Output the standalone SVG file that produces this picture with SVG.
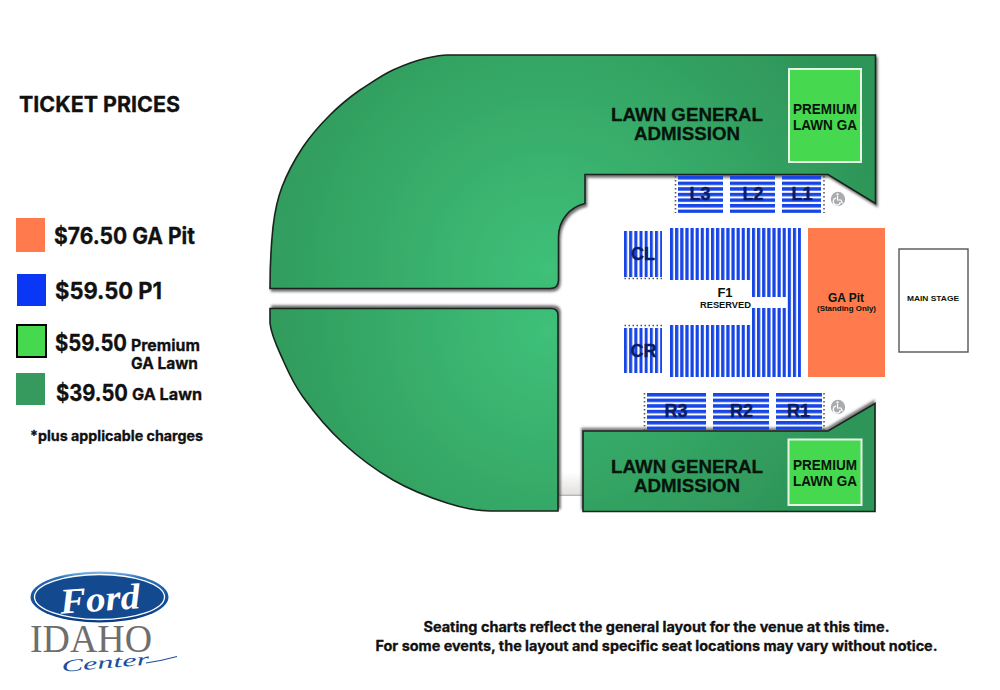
<svg xmlns="http://www.w3.org/2000/svg" width="1000" height="690" viewBox="0 0 1000 690">
<style>
.lawn{stroke:#1a241e;stroke-width:1.6}
.prem{fill:#46d84e;stroke:#e6f5e6;stroke-width:2}
.map{font-family:"Liberation Sans",Arial,sans-serif;font-weight:700;fill:#07140c;text-anchor:middle}
.big{stroke:#07140c;stroke-width:.3}
.sec{font-family:"Liberation Sans",Arial,sans-serif;font-weight:700;font-size:18px;fill:#0a1c66;stroke:#0a1c66;stroke-width:.4;text-anchor:middle}
.leg{font-family:Inter,"Liberation Sans",sans-serif;font-weight:700;fill:#111;stroke:#111;stroke-width:.3}
.dots{stroke:#555;stroke-width:1.6;stroke-dasharray:1.5 2.5;fill:none}
</style>
<defs>
<filter id="sh1" x="-5%" y="-5%" width="110%" height="110%"><feDropShadow dx="1.5" dy="2.5" stdDeviation="1.2" flood-color="#444" flood-opacity=".75"/></filter>
<filter id="sh2" x="-5%" y="-5%" width="110%" height="110%"><feDropShadow dx="2" dy="-2.5" stdDeviation="1.2" flood-color="#444" flood-opacity=".75"/></filter>
<filter id="sh3" x="-5%" y="-5%" width="110%" height="110%"><feDropShadow dx="-1" dy="-2.5" stdDeviation="1.2" flood-color="#444" flood-opacity=".7"/></filter>
<radialGradient id="g1" gradientUnits="userSpaceOnUse" cx="548" cy="270" r="340"><stop offset="0" stop-color="#3fc079"/><stop offset="1" stop-color="#2e9558"/></radialGradient>
<radialGradient id="g2" gradientUnits="userSpaceOnUse" cx="548" cy="330" r="320"><stop offset="0" stop-color="#3fc079"/><stop offset="1" stop-color="#2e9558"/></radialGradient>
<linearGradient id="g3" x1="0" y1="0" x2="0" y2="1"><stop offset="0" stop-color="#fff"/><stop offset="1" stop-color="#e2e0de"/></linearGradient>
<linearGradient id="ov" x1="0" y1="0" x2="0" y2="1"><stop offset="0" stop-color="#8fc0e8"/><stop offset=".12" stop-color="#2a70b8"/><stop offset=".5" stop-color="#15539f"/><stop offset="1" stop-color="#0b3a80"/></linearGradient>
<pattern id="h" width="10" height="5.6" patternUnits="userSpaceOnUse" y="176"><rect width="10" height="3.5" fill="#1846e6"/></pattern>
<pattern id="h2" width="10" height="5.6" patternUnits="userSpaceOnUse" y="393"><rect width="10" height="3.5" fill="#1846e6"/></pattern>
<pattern id="v" width="5.12" height="10" patternUnits="userSpaceOnUse" x="670"><rect width="3.2" height="10" fill="#1846e6"/></pattern>
<pattern id="vc" width="5.17" height="10" patternUnits="userSpaceOnUse" x="624"><rect width="3" height="10" fill="#1846e6"/></pattern>
<g id="wc"><circle r="7.2" fill="#a9abad"/><circle cx="-.5" cy="-4.6" r="1.1" fill="#fff"/><path d="M-.5-3V1H3L4.500 4.400M-2-1A3.600 3.600 0 1 0 2.400 3.200" fill="none" stroke="#fff" stroke-width="1.200"/></g>
</defs>
<rect width="1000" height="690" fill="#fff"/>

<g id="legend">
<text class="leg" x="19" y="112" font-size="21.5" textLength="161" lengthAdjust="spacingAndGlyphs">TICKET PRICES</text>
<rect x="16" y="218" width="29" height="34" fill="#ff7a4d"/>
<rect x="17" y="274" width="29" height="32" fill="#0a36f5"/>
<rect x="17" y="325" width="29" height="32" fill="#46d84e" stroke="#000" stroke-width="2"/>
<rect x="16" y="373" width="29" height="32" fill="#36995e"/>
<text class="leg" x="54" y="244" font-size="22.5" textLength="141" lengthAdjust="spacingAndGlyphs">$76.50 GA Pit</text>
<text class="leg" x="55" y="299" font-size="22.5" textLength="107" lengthAdjust="spacingAndGlyphs">$59.50 P1</text>
<text class="leg" x="55" y="351" font-size="22.5" textLength="72" lengthAdjust="spacingAndGlyphs">$59.50</text>
<text class="leg" x="131" y="351" font-size="16" textLength="69" lengthAdjust="spacingAndGlyphs">Premium</text>
<text class="leg" x="131" y="369" font-size="16" textLength="67" lengthAdjust="spacingAndGlyphs">GA Lawn</text>
<text class="leg" x="56" y="401" font-size="22.5" textLength="72" lengthAdjust="spacingAndGlyphs">$39.50</text>
<text class="leg" x="132" y="400" font-size="16" textLength="70" lengthAdjust="spacingAndGlyphs">GA Lawn</text>
<text class="leg" x="30" y="441" font-size="14" textLength="173" lengthAdjust="spacingAndGlyphs">*plus applicable charges</text>
</g>

<g id="floor">
<rect x="559" y="472" width="24" height="23" fill="url(#g3)"/>
<path d="M559 495.300H583" stroke="#8a8a8a" stroke-width=".8"/>
</g>

<g id="lawn-upper">
<path class="lawn" filter="url(#sh1)" fill="url(#g1)" d="M270 288.500C270 274 270 256 273 227C275 210 277 200 282 187C287 174 295 159 303 147C311 135 320 125 330 115C340 105 350 97 360 90C371 83 382 75 393 70C404 65 418 60 427 58C436 56 441 55 447 55H875.500V203.500L828 174.500H585V203.500C570 207 558.500 220 558.500 237V280Q558.500 288.500 550 288.500Z"/>
<rect class="prem" x="789" y="69" width="72" height="93"/>
<text class="map big" x="687" y="120.500" font-size="18.500" textLength="152" lengthAdjust="spacingAndGlyphs">LAWN GENERAL</text>
<text class="map big" x="687" y="139.500" font-size="18.500" textLength="106" lengthAdjust="spacingAndGlyphs">ADMISSION</text>
<text class="map" x="825" y="114" font-size="14.500" textLength="64" lengthAdjust="spacingAndGlyphs">PREMIUM</text>
<text class="map" x="825" y="130" font-size="14.500" textLength="64" lengthAdjust="spacingAndGlyphs">LAWN GA</text>
</g>
<g id="lawn-lower-left">
<path class="lawn" filter="url(#sh2)" fill="url(#g2)" d="M270 308.500V323C271 335 277.500 347.700 283 360C288.500 372.300 293 383.200 303 397C313 410.800 328 429.200 343 443C358 456.800 375.700 470 393 480C410.300 490 430.800 497.800 447 503C463.200 508.200 478 511 490 511H558V315Q558 308.500 551 308.500Z"/>
</g>
<g id="lawn-lower-right">
<path class="lawn" filter="url(#sh3)" fill="url(#g1)" d="M583 431H828L875 403.500V511.500H583Z"/>
<rect class="prem" x="788.500" y="439.500" width="73" height="65.500"/>
<text class="map big" x="687" y="472.500" font-size="18.500" textLength="152" lengthAdjust="spacingAndGlyphs">LAWN GENERAL</text>
<text class="map big" x="687" y="491.500" font-size="18.500" textLength="106" lengthAdjust="spacingAndGlyphs">ADMISSION</text>
<text class="map" x="825" y="470" font-size="14.500" textLength="64" lengthAdjust="spacingAndGlyphs">PREMIUM</text>
<text class="map" x="825" y="486" font-size="14.500" textLength="64" lengthAdjust="spacingAndGlyphs">LAWN GA</text>
</g>

<g id="sections-left">
<rect x="678" y="176" width="45" height="37" fill="url(#h)"/>
<rect x="730" y="176" width="45" height="37" fill="url(#h)"/>
<rect x="782" y="176" width="39" height="37" fill="url(#h)"/>
<path class="dots" d="M675.500 176V213M824 176V213"/>
<text class="sec" x="700" y="200">L3</text>
<text class="sec" x="753" y="200">L2</text>
<text class="sec" x="802" y="200">L1</text>
<use href="#wc" x="838" y="199"/>
</g>
<g id="sections-right">
<rect x="647" y="393" width="59" height="37" fill="url(#h2)"/>
<rect x="713" y="393" width="56" height="37" fill="url(#h2)"/>
<rect x="776" y="393" width="46" height="37" fill="url(#h2)"/>
<path class="dots" d="M644.500 393V430M824 393V430"/>
<text class="sec" x="676" y="417">R3</text>
<text class="sec" x="741.500" y="417">R2</text>
<text class="sec" x="798.500" y="417">R1</text>
<use href="#wc" x="838" y="407"/>
</g>
<g id="sections-center">
<rect x="624" y="231" width="38" height="46" fill="url(#vc)"/>
<rect x="624" y="328" width="38" height="45" fill="url(#vc)"/>
<path class="dots" d="M624.500 278.500H662M624.500 325.500H662"/>
<text class="sec" x="643" y="260">CL</text>
<text class="sec" x="643.500" y="357">CR</text>
</g>
<g id="section-F1">
<path fill="url(#v)" d="M670 228H801V377H670V325H751.500V308H787V297H751.500V280H670Z"/>
<text class="map" x="725" y="297" font-size="13">F1</text>
<text class="map" x="725.500" y="308" font-size="9" textLength="51" lengthAdjust="spacingAndGlyphs">RESERVED</text>
</g>
<g id="ga-pit">
<rect x="808" y="228" width="77" height="149" fill="#ff7a4d"/>
<text class="map" x="846" y="302" font-size="12" textLength="36" lengthAdjust="spacingAndGlyphs">GA Pit</text>
<text class="map" x="846.500" y="310.500" font-size="8" textLength="59" lengthAdjust="spacingAndGlyphs">(Standing Only)</text>
</g>
<g id="main-stage">
<rect x="899" y="249" width="69" height="103" fill="#fff" stroke="#555" stroke-width="1.400"/>
<text class="map" x="933" y="301" font-size="8" textLength="52" lengthAdjust="spacingAndGlyphs">MAIN STAGE</text>
</g>

<g id="notice">
<text class="leg" x="656.500" y="632" font-size="14" text-anchor="middle" textLength="466" lengthAdjust="spacingAndGlyphs">Seating charts reflect the general layout for the venue at this time.</text>
<text class="leg" x="656.500" y="651" font-size="14" text-anchor="middle" textLength="562" lengthAdjust="spacingAndGlyphs">For some events, the layout and specific seat locations may vary without notice.</text>
</g>

<g id="logo">
<ellipse cx="99.500" cy="597" rx="69" ry="25.500" fill="url(#ov)"/>
<ellipse cx="99.500" cy="597" rx="65" ry="22.500" fill="#12498f" stroke="#fff" stroke-width="1.300"/>
<text x="100" y="611" font-family="Liberation Serif,serif" font-style="italic" font-weight="700" font-size="36" fill="#fff" text-anchor="middle" textLength="80" lengthAdjust="spacingAndGlyphs" transform="rotate(-4 100 600)">Ford</text>
<text x="30" y="652" font-family="Liberation Serif,serif" font-size="40" fill="#6e6e6e" textLength="122" lengthAdjust="spacingAndGlyphs">IDAHO</text>
<text x="62" y="672" font-family="Liberation Serif,serif" font-style="italic" font-size="17" fill="#1c4f9c" textLength="88" lengthAdjust="spacingAndGlyphs" transform="rotate(-5 62 672)">Center</text>
<path d="M146 663C156 661.500 168 659 177 656.500" fill="none" stroke="#1c4f9c" stroke-width="1.200"/>
</g>
</svg>
